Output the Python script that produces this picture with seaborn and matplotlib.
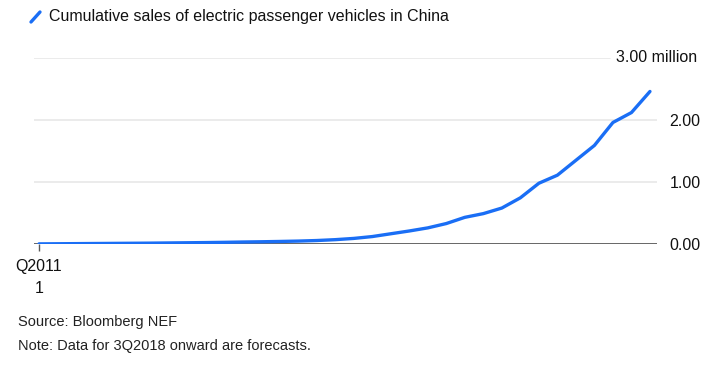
import numpy as np
import pandas as pd
import matplotlib
matplotlib.use("Agg")
import matplotlib.pyplot as plt
import seaborn as sns

# Quarterly cumulative sales (million), Q1 2011 .. Q2 2019
quarters = [f"Q{q} {y}" for y in range(2011, 2020) for q in range(1, 5)][:34]
sales = [0.002, 0.004, 0.006, 0.008, 0.010, 0.012, 0.014, 0.017,
         0.020, 0.023, 0.027, 0.032, 0.036, 0.041, 0.047, 0.056,
         0.070, 0.090, 0.120, 0.165, 0.210, 0.260, 0.330, 0.430,
         0.490, 0.580, 0.745, 0.980, 1.110, 1.350, 1.590, 1.960,
         2.120, 2.460]
y_ticks = [0, 1, 2]
y_labels = ["0.00", "1.00", "2.00"]

df = pd.DataFrame({"idx": range(len(sales)), "quarter": quarters, "sales": sales})

sns.set_style("white")
plt.rcParams['font.family'] = ['Liberation Sans', 'DejaVu Sans']

fig = plt.figure(figsize=(7.23, 3.67), dpi=100)
ax = fig.add_axes([34 / 723, 1 - 244 / 367, 623 / 723, 186 / 367])

# gridlines
for v in y_ticks[1:]:
    ax.axhline(v, color="#e8e8e8", lw=1.2, zorder=0)
ax.axhline(3, xmax=0.925, color="#e8e8e8", lw=1.2, zorder=0)
ax.axhline(0, color="#5a5a5a", lw=1.3, zorder=1)

sns.lineplot(data=df, x="idx", y="sales", ax=ax, color="#1a6ef5", lw=2.4,
             zorder=3, solid_capstyle="round")

ax.set_xlim(-0.27, 33.38)
ax.set_ylim(0, 3)
for s in ax.spines.values():
    s.set_visible(False)

ax.yaxis.tick_right()
ax.set_yticks(y_ticks)
ax.set_yticklabels(y_labels, fontsize=11.5, color="#111111")
ax.tick_params(axis="y", length=0, pad=9)
ax.text((697 - 34) / 623, 3, "3.00 million", transform=ax.get_yaxis_transform(),
        ha="right", va="center", fontsize=11.5, color="#111111")

ax.set_xticks([0])
ax.set_xticklabels(["Q2011\n1"], fontsize=11.5, color="#111111", linespacing=1.6)
ax.tick_params(axis="x", bottom=True, length=5, width=1, color="#5a5a5a", pad=6)
ax.set_xlabel("")
ax.set_ylabel("")

# title with line-icon
fig.add_artist(plt.Line2D([31 / 723, 40 / 723], [1 - 22 / 367, 1 - 12 / 367],
                          color="#1a6ef5", lw=2.4, solid_capstyle="round"))
fig.text(49 / 723, 1 - 17 / 367, "Cumulative sales of electric passenger vehicles in China",
         fontsize=11.5, va="center", ha="left", color="#111111")

fig.text(18 / 723, 1 - 322 / 367, "Source: Bloomberg NEF", fontsize=10.5,
         va="center", color="#222222")
fig.text(18 / 723, 1 - 346 / 367, "Note: Data for 3Q2018 onward are forecasts.",
         fontsize=10.5, va="center", color="#222222")

fig.savefig("out.png", dpi=100)
